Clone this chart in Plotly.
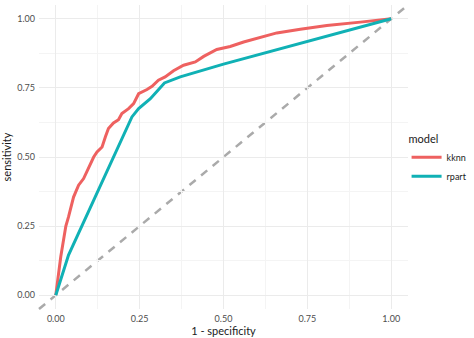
import plotly.graph_objects as go

# ROC curve data
kknn_fpr = [0.0, 0.015, 0.03, 0.038, 0.053, 0.068, 0.083, 0.098, 0.113, 0.123, 0.138, 0.148, 0.157,
            0.172, 0.187, 0.197, 0.217, 0.232, 0.247, 0.272, 0.287, 0.306, 0.326, 0.351, 0.381,
            0.416, 0.441, 0.480, 0.520, 0.560, 0.610, 0.659, 0.729, 0.808, 0.908, 1.0]
kknn_tpr = [0.0, 0.14, 0.25, 0.283, 0.355, 0.398, 0.422, 0.464, 0.500, 0.518, 0.536, 0.573, 0.603,
            0.623, 0.635, 0.657, 0.675, 0.693, 0.729, 0.744, 0.756, 0.778, 0.790, 0.812, 0.832,
            0.844, 0.864, 0.889, 0.900, 0.916, 0.934, 0.949, 0.962, 0.976, 0.988, 1.0]

rpart_fpr = [0.0, 0.038, 0.227, 0.247, 0.282, 0.324, 0.371, 0.500, 1.0]
rpart_tpr = [0.0, 0.145, 0.645, 0.675, 0.711, 0.768, 0.790, 0.836, 1.0]

models = ["kknn", "rpart"]
colors = ["#EE6160", "#10B1B5"]
tick_vals = [0, 0.25, 0.5, 0.75, 1.0]
tick_text = ["0.00", "0.25", "0.50", "0.75", "1.00"]
minor_vals = [0.125, 0.375, 0.625, 0.875]
axis_range = [-0.05, 1.05]

FONT = "Lato"

fig = go.Figure()
for name, xs, ys, col in zip(models, [kknn_fpr, rpart_fpr], [kknn_tpr, rpart_tpr], colors):
    fig.add_trace(go.Scatter(x=xs, y=ys, mode="lines", name=name,
                             line=dict(color=col, width=3)))

# diagonal reference line (y = x) across the whole panel
fig.add_shape(type="line", xref="x domain", yref="y domain", x0=0, y0=0, x1=1, y1=1,
              line=dict(color="#AAAAAA", width=2.5, dash="8px,7px"), layer="below")

axis_common = dict(range=axis_range, tickvals=tick_vals, ticktext=tick_text,
                   showgrid=True, gridcolor="#EBEBEB", gridwidth=1.1,
                   zeroline=False, showline=False, ticks="",
                   tickfont=dict(family=FONT, size=9, color="#4D4D4D"),
                   minor=dict(tickvals=minor_vals,
                              showgrid=True, gridcolor="#F4F4F4", gridwidth=0.8))

fig.update_layout(
    width=474, height=338,
    margin=dict(l=39, r=66, t=5, b=29, autoexpand=False),
    paper_bgcolor="white", plot_bgcolor="white",
    font=dict(family=FONT, color="#1A1A1A"),
    xaxis=dict(title=dict(text="1 - specificity", font=dict(family=FONT, size=11, color="#1A1A1A"),
                          standoff=2), ticklabelstandoff=3, **axis_common),
    yaxis=dict(title=dict(text="sensitivity", font=dict(family=FONT, size=11, color="#1A1A1A"),
                          standoff=4), ticklabelstandoff=3, **axis_common),
    legend=dict(title=dict(text="model", font=dict(family=FONT, size=11, color="#1A1A1A")),
                font=dict(family=FONT, size=9, color="#1A1A1A"),
                x=1.175, xanchor="right", y=0.49, yanchor="middle",
                itemwidth=30, tracegroupgap=0, bgcolor="rgba(0,0,0,0)"),
)

fig.write_html("out.html")
